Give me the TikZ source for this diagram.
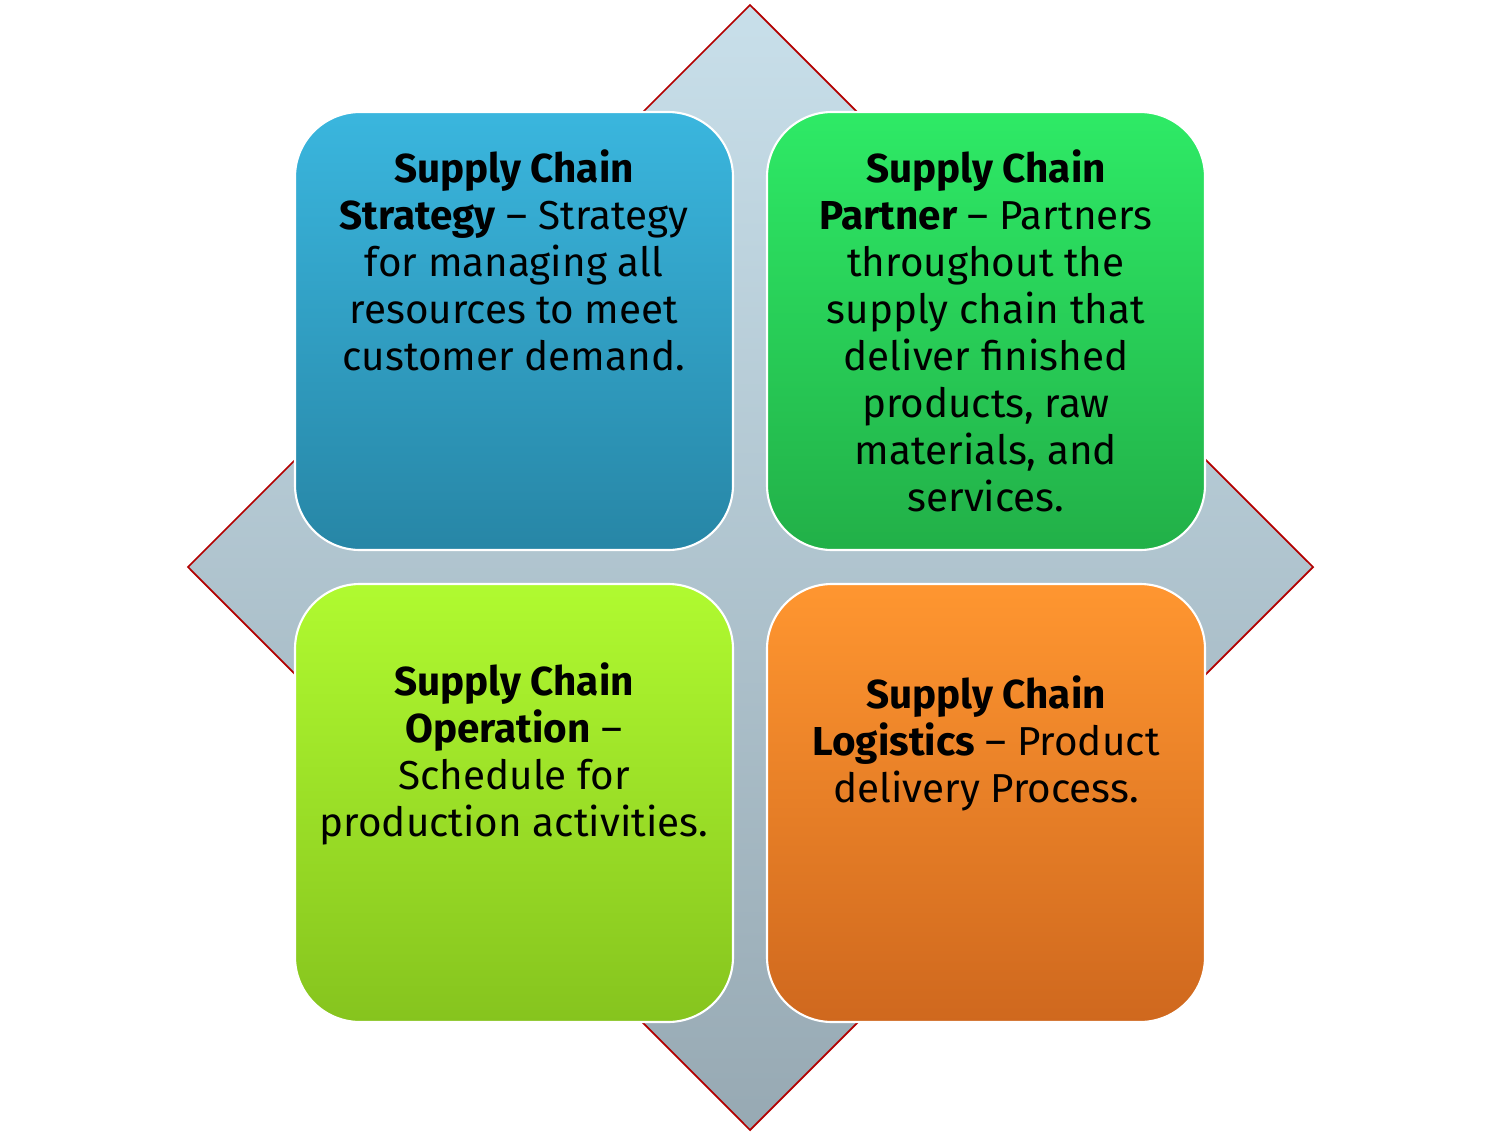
\documentclass[tikz,border=0pt]{standalone}
\usepackage{fontspec}
\setmainfont{Fira Sans}
\definecolor{dtop}{HTML}{C8DFEA}
\definecolor{dbot}{HTML}{97A9B3}
\definecolor{btop}{HTML}{3AB6DE}
\definecolor{bbot}{HTML}{2786A6}
\definecolor{gtop}{HTML}{2EEA66}
\definecolor{gbot}{HTML}{22B048}
\definecolor{ltop}{HTML}{B0FA30}
\definecolor{lbot}{HTML}{86C41E}
\definecolor{otop}{HTML}{FF9630}
\definecolor{obot}{HTML}{CF681E}
\tikzset{
  card/.style={rounded corners=0.65cm, minimum width=4.38cm, minimum height=4.38cm, draw=white, line width=0.6pt, align=center, font=\fontsize{11.5}{13.4}\selectfont, inner sep=0pt}
}
\begin{document}
\begin{tikzpicture}
\useasboundingbox (0,0) rectangle (15,11.33);
\path[draw=red!70!black, line width=0.5pt, top color=dtop, bottom color=dbot]
  (1.88,5.66) coordinate (dl) -- (7.5,11.28) coordinate (dt) -- (13.13,5.66) coordinate (dr) -- (7.5,0.03) coordinate (db) -- cycle;
\node[card, top color=btop, bottom color=bbot] (s) at (5.14,8.02) {\textbf{Supply Chain}\\\textbf{Strategy} – Strategy\\for managing all\\resources to meet\\customer demand.\\[0.95cm]};
\node[card, top color=gtop, bottom color=gbot] (p) at (9.86,8.02) {\textbf{Supply Chain}\\\textbf{Partner} – Partners\\throughout the\\supply chain that\\deliver finished\\products, raw\\materials, and\\services.};
\node[card, top color=ltop, bottom color=lbot] (o) at (5.14,3.30) {\textbf{Supply Chain}\\\textbf{Operation} –\\Schedule for\\production activities.\\[0.6cm]};
\node[card, top color=otop, bottom color=obot] (l) at (9.86,3.30) {\textbf{Supply Chain}\\\textbf{Logistics} – Product\\delivery Process.\\[0.8cm]};
\end{tikzpicture}
\end{document}
